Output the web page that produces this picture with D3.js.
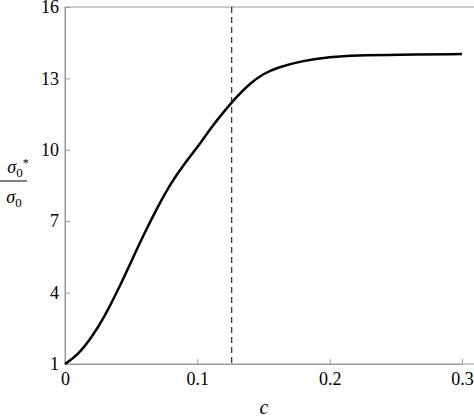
<!DOCTYPE html>
<html><head><meta charset="utf-8">
<script src="https://cdn.jsdelivr.net/npm/d3@7"></script>
<style>body{margin:0;background:#fff}</style></head>
<body><div id="chart"></div>
<script>
const cValues = [0, 0.01, 0.02, 0.03, 0.04, 0.05, 0.06, 0.07, 0.08, 0.09, 0.1, 0.11, 0.12, 0.13, 0.14, 0.15, 0.16, 0.18, 0.2, 0.22, 0.25, 0.3];
const ratioValues = [1, 1.4, 2.1, 3.0, 4.1, 5.3, 6.5, 7.6, 8.6, 9.4, 10.1, 10.9, 11.6, 12.25, 12.8, 13.2, 13.45, 13.75, 13.9, 13.97, 14.0, 14.02];
const xTicks = [0, 0.1, 0.2, 0.3];
const yTicks = [1, 4, 7, 10, 13, 16];
const dashedC = 0.126;

const W = 474, H = 419;
const FONT = "'Liberation Serif', 'DejaVu Serif', serif";
const svg = d3.select("#chart").append("svg").attr("width", W).attr("height", H)
  .style("font-family", FONT);
const x = d3.scaleLinear().domain([0, 0.3]).range([65, 462]);
const y = d3.scaleLinear().domain([1, 16]).range([364, 7]);

// frame
svg.append("rect").attr("x", 65).attr("y", 7).attr("width", 420).attr("height", 357)
  .attr("fill", "none").attr("stroke", "#999").attr("stroke-width", 1);

svg.append("g").attr("transform", "translate(0,364)")
  .call(d3.axisBottom(x).tickValues(xTicks).tickSizeInner(-5).tickSizeOuter(0).tickPadding(8)
    .tickFormat(d => d === 0 ? "0" : d3.format(".1f")(d)))
  .attr("font-family", FONT)
  .call(g => g.select(".domain").attr("stroke", "#999"))
  .call(g => g.selectAll("line").attr("stroke", "#999"))
  .call(g => g.selectAll("text").attr("font-size", 18).attr("fill", "#000"));
svg.append("g").attr("transform", "translate(65,0)")
  .call(d3.axisLeft(y).tickValues(yTicks).tickSizeInner(-5).tickSizeOuter(0).tickPadding(6))
  .attr("font-family", FONT)
  .call(g => g.select(".domain").attr("stroke", "#999"))
  .call(g => g.selectAll("line").attr("stroke", "#999"))
  .call(g => g.selectAll("text").attr("font-size", 18).attr("fill", "#000"));

svg.append("line").attr("x1", x(dashedC)).attr("x2", x(dashedC)).attr("y1", 7).attr("y2", 364)
  .attr("stroke", "#000").attr("stroke-dasharray", "6,4").attr("stroke-width", 1);

const data = cValues.map((c, i) => [c, ratioValues[i]]);
svg.append("path").datum(data).attr("fill", "none").attr("stroke", "#000").attr("stroke-width", 2.5)
  .attr("d", d3.line().x(d => x(d[0])).y(d => y(d[1])).curve(d3.curveBasis));

// y label as fraction
svg.append("text").attr("x", 18).attr("y", 173).attr("font-size", 18).attr("text-anchor", "middle")
  .attr("font-style", "italic").html('σ<tspan font-style="normal" font-size="13" dy="4">0</tspan><tspan font-style="normal" font-size="12" dy="-10">*</tspan>');
svg.append("line").attr("x1", 0).attr("x2", 27).attr("y1", 181).attr("y2", 181).attr("stroke", "#000");
svg.append("text").attr("x", 14).attr("y", 203).attr("font-size", 18).attr("text-anchor", "middle")
  .attr("font-style", "italic").html('σ<tspan font-style="normal" font-size="13" dy="4">0</tspan>');

svg.append("text").attr("x", 264).attr("y", 414).attr("font-size", 20).attr("font-style", "italic")
  .attr("text-anchor", "middle").text("c");
</script></body></html>
